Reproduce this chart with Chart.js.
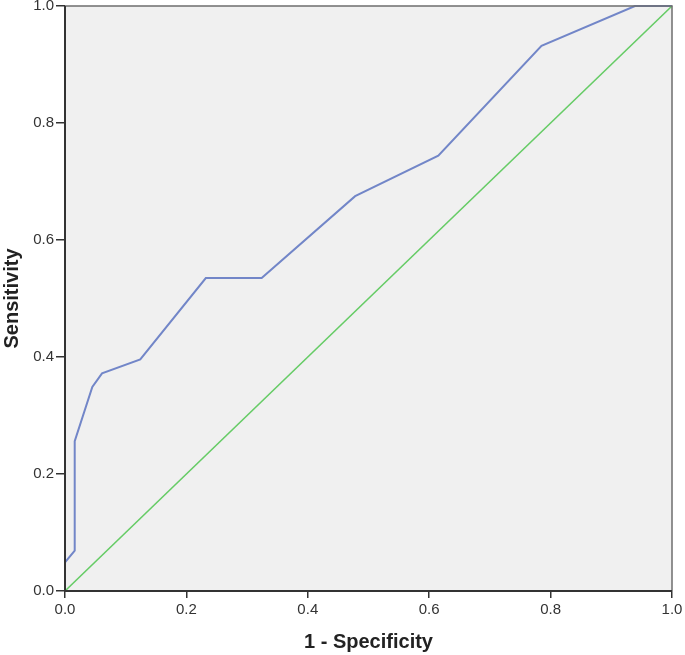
<!DOCTYPE html>
<html>
<head>
<meta charset="utf-8">
<script src="https://cdn.jsdelivr.net/npm/chart.js@4.4.0/dist/chart.umd.min.js"></script>
<style>
  html, body { margin: 0; padding: 0; background: #fff; }
  #wrap { width: 685px; height: 655px; position: relative; }
</style>
</head>
<body>
<div id="wrap"><canvas id="roc"></canvas></div>
<script>
// ROC curve points
const fpr = [0, 0, 0.016, 0.016, 0.045, 0.061, 0.124, 0.232, 0.324, 0.478, 0.615, 0.785, 0.939, 1];
const tpr = [0, 0.049, 0.069, 0.256, 0.349, 0.372, 0.396, 0.535, 0.535, 0.675, 0.744, 0.932, 1, 1];
// reference (chance) line
const refX = [0, 1];
const refY = [0, 1];
const tickValues = [0, 0.2, 0.4, 0.6, 0.8, 1.0];

const toPoints = (xs, ys) => xs.map((x, i) => ({ x: x, y: ys[i] }));

// grey plot background + frame
const frame = {
  id: 'frame',
  beforeDatasetsDraw(chart) {
    const { ctx, chartArea: a } = chart;
    ctx.save();
    ctx.fillStyle = '#f0f0f0';
    ctx.fillRect(a.left, a.top, a.right - a.left, a.bottom - a.top);
    ctx.restore();
  },
  afterDatasetsDraw(chart) {
    const { ctx, chartArea: a } = chart;
    ctx.save();
    ctx.strokeStyle = '#6e6e6e';
    ctx.lineWidth = 1.5;
    ctx.beginPath();
    ctx.moveTo(a.left, a.top);
    ctx.lineTo(a.right, a.top);
    ctx.lineTo(a.right, a.bottom);
    ctx.stroke();
    ctx.strokeStyle = '#333';
    ctx.lineWidth = 2;
    ctx.beginPath();
    ctx.moveTo(a.left, a.top);
    ctx.lineTo(a.left, a.bottom);
    ctx.lineTo(a.right, a.bottom);
    ctx.stroke();
    ctx.restore();
  }
};

const tickFont = { family: '"Liberation Sans", Arial, sans-serif', size: 15 };
const titleFont = { family: '"Liberation Sans", Arial, sans-serif', size: 20, weight: 'bold' };

new Chart(document.getElementById('roc'), {
  type: 'scatter',
  data: {
    datasets: [
      {
        label: 'Reference',
        data: toPoints(refX, refY),
        showLine: true,
        borderColor: '#66cc66',
        borderWidth: 1.6,
        pointRadius: 0,
        clip: 4
      },
      {
        label: 'ROC',
        data: toPoints(fpr, tpr),
        showLine: true,
        borderColor: '#7286c8',
        borderWidth: 2,
        pointRadius: 0,
        clip: 4
      }
    ]
  },
  options: {
    responsive: true,
    maintainAspectRatio: false,
    animation: false,
    layout: { padding: { top: 6, right: 13, left: 0, bottom: 0 } },
    plugins: { legend: { display: false }, tooltip: { enabled: false } },
    scales: {
      x: {
        type: 'linear',
        min: 0, max: 1,
        afterBuildTicks: s => { s.ticks = tickValues.map(v => ({ value: v })); },
        afterFit: s => { s.height = 64; s.paddingLeft = 0; s.paddingRight = 0; },
        grid: { drawOnChartArea: false, tickLength: 7, color: '#333', lineWidth: 1.5 },
        border: { display: false },
        ticks: {
          padding: 3,
          color: '#333',
          font: tickFont,
          maxRotation: 0,
          callback: v => v.toFixed(1)
        },
        title: {
          display: true,
          text: '1 - Specificity',
          color: '#222',
          font: titleFont,
          padding: { top: 0, bottom: 1 }
        }
      },
      y: {
        type: 'linear',
        min: 0, max: 1,
        afterBuildTicks: s => { s.ticks = tickValues.map(v => ({ value: v })); },
        afterFit: s => { s.width = 65; s.paddingTop = 0; s.paddingBottom = 0; },
        grid: { drawOnChartArea: false, tickLength: 9, color: '#333', lineWidth: 1.5 },
        border: { display: false },
        ticks: {
          padding: 2,
          color: '#333',
          font: tickFont,
          callback: v => v.toFixed(1)
        },
        title: {
          display: true,
          text: 'Sensitivity',
          color: '#222',
          font: titleFont,
          padding: { top: 0, bottom: 0 }
        }
      }
    }
  },
  plugins: [frame]
});
</script>
</body>
</html>
